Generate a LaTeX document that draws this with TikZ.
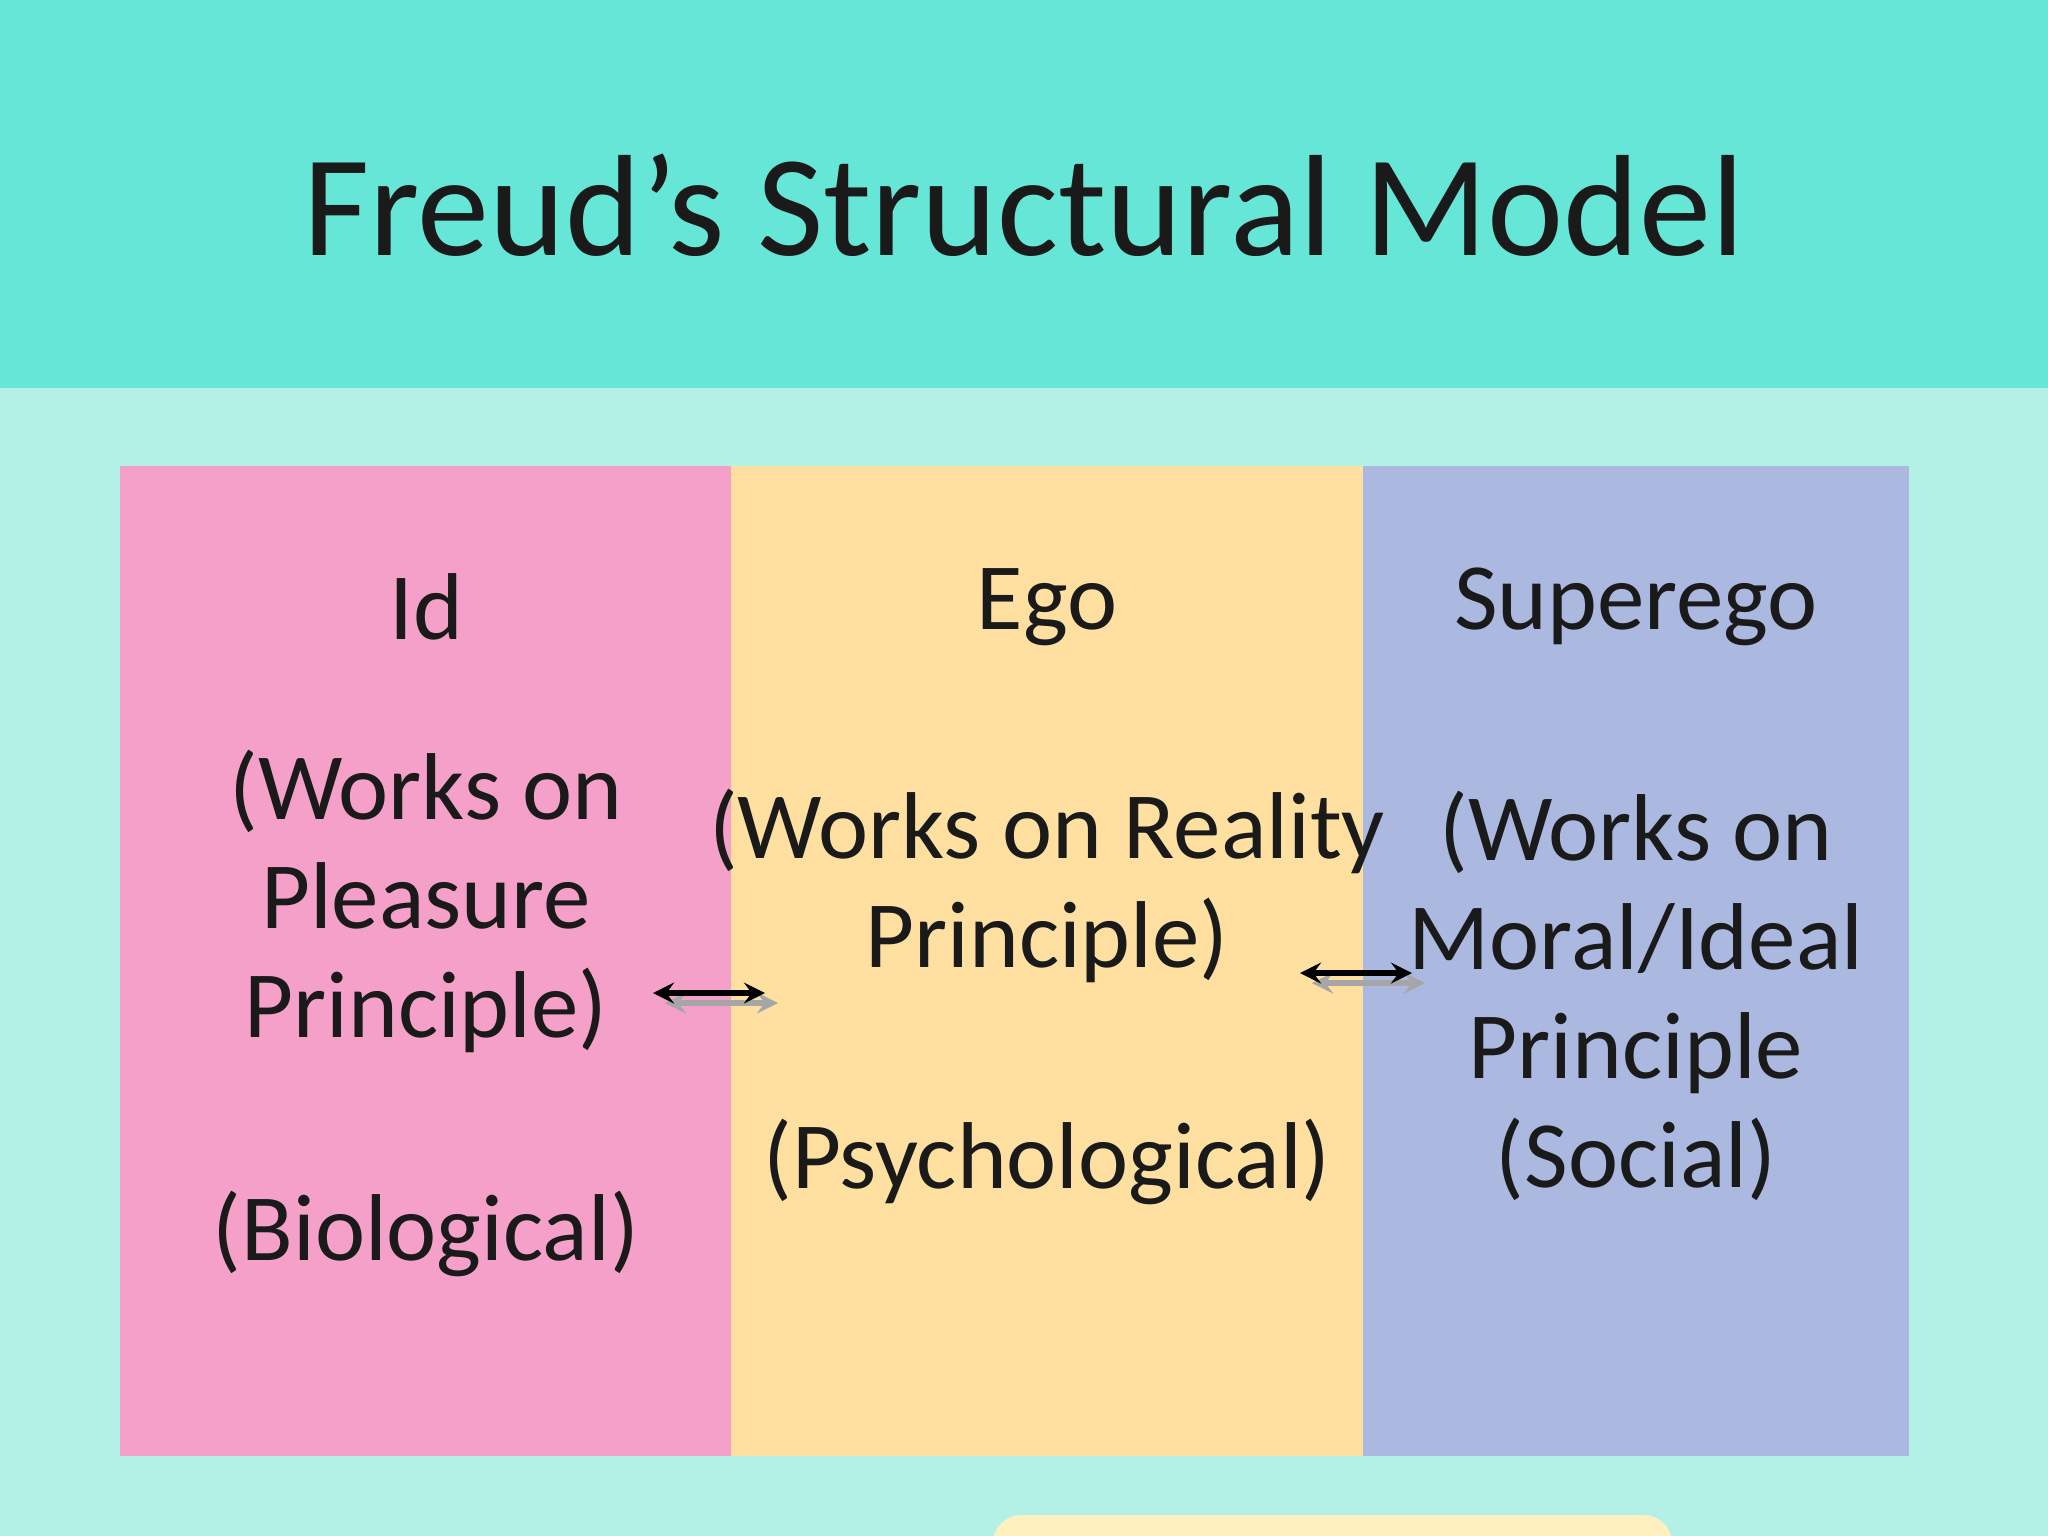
\documentclass[tikz,border=0pt]{standalone}
\usepackage{fontspec}
\setmainfont{Carlito}
\definecolor{topband}{HTML}{66E6D6}
\definecolor{bgc}{HTML}{B3F0E6}
\definecolor{pinkc}{HTML}{F5A0C8}
\definecolor{yelc}{HTML}{FFE0A0}
\definecolor{bluec}{HTML}{ABB8E0}
\definecolor{lowc}{HTML}{FFF0C0}
\definecolor{txt}{HTML}{1A1A1A}
\begin{document}
\begin{tikzpicture}[x=0.01cm,y=-0.01cm,
  body/.style={align=center,text=txt,font=\fontsize{27pt}{31pt}\selectfont},
  arr/.style={<->,>=stealth,line width=1.6pt}]
\useasboundingbox (0,0) rectangle (2048,1536);
\fill[bgc] (0,0) rectangle (2048,1536);
\fill[topband] (0,0) rectangle (2048,388);
\node[text=txt,font=\fontsize{41pt}{48pt}\selectfont] (title) at (1024,205) {Freud’s Structural Model};
\fill[pinkc] (120,466) rectangle (731,1456);
\fill[yelc] (731,466) rectangle (1363,1456);
\fill[bluec] (1363,466) rectangle (1909,1456);
\fill[lowc,rounded corners=8pt] (993,1515) rectangle (1672,1560);
\node[body] (id) at (426,607) {Id};
\node[body] (idt) at (426,901) {(Works on\\Pleasure\\Principle)};
\node[body] (idb) at (426,1234) {(Biological)};
\node[body] (ego) at (1047,607) {Ego};
\node[body] (egot) at (1047,886) {(Works on Reality\\Principle)};
\node[body] (egob) at (1047,1162) {(Psychological)};
\node[body] (se) at (1636,607) {Superego};
\node[body] (set) at (1636,996) {(Works on\\Moral/Ideal\\Principle\\(Social)};
\coordinate (a1) at (653,993); \coordinate (a2) at (765,993);
\coordinate (a1s) at (665,1003); \coordinate (a2s) at (778,1003);
\coordinate (b1) at (1300,973); \coordinate (b2) at (1412,973);
\coordinate (b1s) at (1312,983); \coordinate (b2s) at (1425,983);
\draw[arr,gray!70] (a1s) -- (a2s);
\draw[arr] (a1) -- (a2);
\draw[arr,gray!70] (b1s) -- (b2s);
\draw[arr] (b1) -- (b2);
\end{tikzpicture}
\end{document}
